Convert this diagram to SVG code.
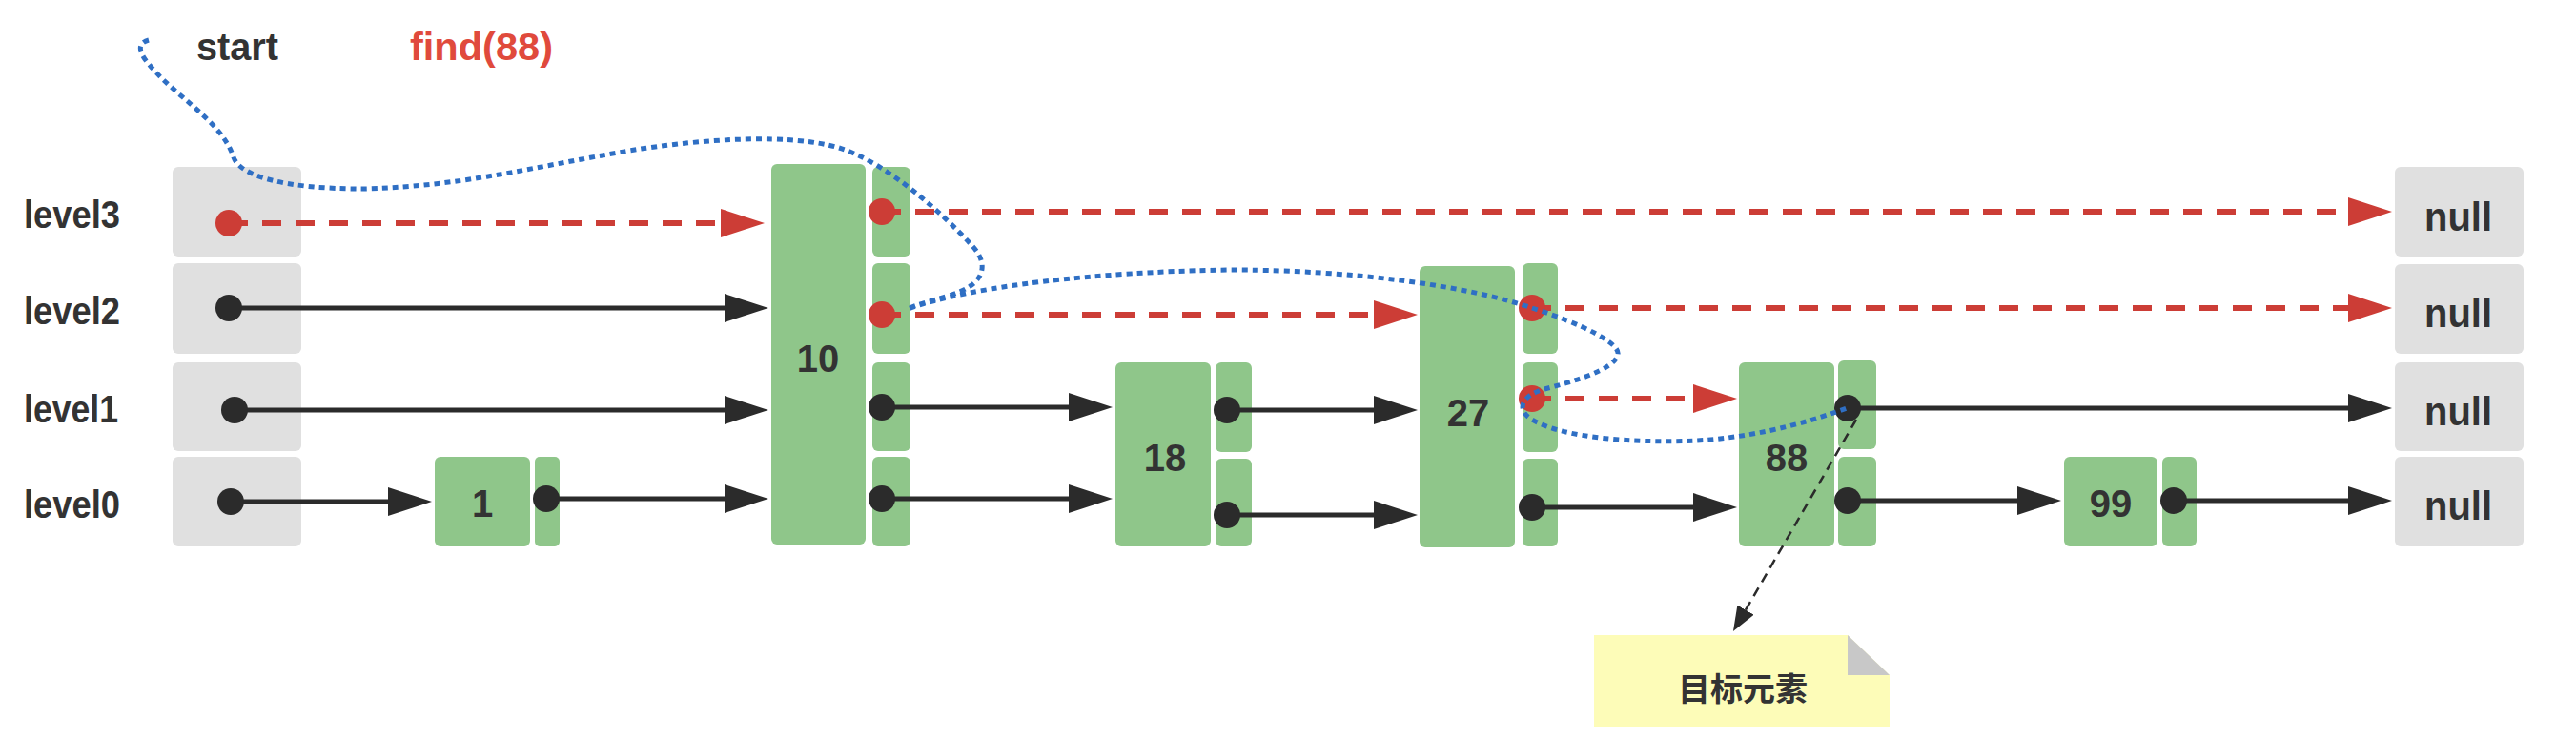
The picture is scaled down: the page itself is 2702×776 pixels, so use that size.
<svg xmlns="http://www.w3.org/2000/svg" width="2702" height="776" viewBox="0 0 2702 776">
<defs>
<style>
.gray{fill:#e0e0e0}
.grn{fill:#8fc68a}
.lbl{font-family:"Liberation Sans",Arial,sans-serif;font-weight:bold;fill:#333;font-size:40px}
.num{font-family:"Liberation Sans",Arial,sans-serif;font-weight:bold;fill:#333;font-size:40px;text-anchor:middle;dominant-baseline:central}
.nul{font-family:"Liberation Sans",Arial,sans-serif;font-weight:bold;fill:#333;font-size:43px}
.blk{stroke:#2b2b2b;stroke-width:5;fill:none;marker-end:url(#ab)}
.red{stroke:#cc3d36;stroke-width:6;fill:none;stroke-dasharray:20 15;marker-end:url(#ar)}
.dotB{fill:#2b2b2b}
.dotR{fill:#cc3d36}
</style>
<marker id="ab" markerUnits="userSpaceOnUse" markerWidth="46" markerHeight="30" viewBox="0 0 46 30" refX="22" refY="15" orient="auto"><path d="M0,0 L46,15 L0,30 z" fill="#2b2b2b"/></marker>
<marker id="ar" markerUnits="userSpaceOnUse" markerWidth="46" markerHeight="30" viewBox="0 0 46 30" refX="22" refY="15" orient="auto"><path d="M0,0 L46,15 L0,30 z" fill="#cc3d36"/></marker>
<marker id="at" markerUnits="userSpaceOnUse" markerWidth="26" markerHeight="20" viewBox="0 0 26 20" refX="12" refY="10" orient="auto"><path d="M0,0 L26,10 L0,20 z" fill="#2b2b2b"/></marker>
</defs>
<rect width="2702" height="776" fill="#ffffff"/>

<g id="titles">
<text x="206" y="63" class="lbl" textLength="86" lengthAdjust="spacingAndGlyphs">start</text>
<text x="430" y="63" class="lbl" style="fill:#e04a3c" textLength="150" lengthAdjust="spacingAndGlyphs">find(88)</text>
</g>

<g id="start">
<rect class="gray" x="181" y="175" width="135" height="94" rx="6"/>
<rect class="gray" x="181" y="276" width="135" height="95" rx="6"/>
<rect class="gray" x="181" y="380" width="135" height="93" rx="6"/>
<rect class="gray" x="181" y="479" width="135" height="94" rx="6"/>
<text class="lbl" x="25" y="239" textLength="101" lengthAdjust="spacingAndGlyphs">level3</text>
<text class="lbl" x="25" y="340" textLength="101" lengthAdjust="spacingAndGlyphs">level2</text>
<text class="lbl" x="25" y="443" textLength="99" lengthAdjust="spacingAndGlyphs">level1</text>
<text class="lbl" x="25" y="543" textLength="101" lengthAdjust="spacingAndGlyphs">level0</text>
</g>

<g id="node1">
<rect class="grn" x="456" y="479" width="100" height="94" rx="6"/>
<rect class="grn" x="561" y="479" width="26" height="94" rx="5"/>
<text class="num" x="506" y="528">1</text>
</g>

<g id="node10">
<rect class="grn" x="809" y="172" width="99" height="399" rx="6"/>
<rect class="grn" x="915" y="175" width="40" height="94" rx="6"/>
<rect class="grn" x="915" y="276" width="40" height="95" rx="6"/>
<rect class="grn" x="915" y="380" width="40" height="93" rx="6"/>
<rect class="grn" x="915" y="479" width="40" height="94" rx="6"/>
<text class="num" x="858" y="376">10</text>
</g>

<g id="node18">
<rect class="grn" x="1170" y="380" width="100" height="193" rx="6"/>
<rect class="grn" x="1275" y="380" width="38" height="94" rx="6"/>
<rect class="grn" x="1275" y="481" width="38" height="92" rx="6"/>
<text class="num" x="1222" y="480">18</text>
</g>

<g id="node27">
<rect class="grn" x="1489" y="279" width="100" height="295" rx="6"/>
<rect class="grn" x="1597" y="276" width="37" height="95" rx="6"/>
<rect class="grn" x="1597" y="380" width="37" height="94" rx="6"/>
<rect class="grn" x="1597" y="481" width="37" height="92" rx="6"/>
<text class="num" x="1540" y="433">27</text>
</g>

<g id="node88">
<rect class="grn" x="1824" y="380" width="100" height="193" rx="6"/>
<rect class="grn" x="1928" y="378" width="40" height="93" rx="6"/>
<rect class="grn" x="1928" y="479" width="40" height="94" rx="6"/>
<text class="num" x="1874" y="480">88</text>
</g>

<g id="node99">
<rect class="grn" x="2165" y="479" width="98" height="94" rx="6"/>
<rect class="grn" x="2268" y="479" width="36" height="94" rx="6"/>
<text class="num" x="2214" y="528">99</text>
</g>

<g id="nullcol">
<rect class="gray" x="2512" y="175" width="135" height="94" rx="6"/>
<rect class="gray" x="2512" y="277" width="135" height="94" rx="6"/>
<rect class="gray" x="2512" y="380" width="135" height="93" rx="6"/>
<rect class="gray" x="2512" y="479" width="135" height="94" rx="6"/>
<text class="nul" x="2543" y="242" textLength="71" lengthAdjust="spacingAndGlyphs">null</text>
<text class="nul" x="2543" y="343" textLength="71" lengthAdjust="spacingAndGlyphs">null</text>
<text class="nul" x="2543" y="446" textLength="71" lengthAdjust="spacingAndGlyphs">null</text>
<text class="nul" x="2543" y="545" textLength="71" lengthAdjust="spacingAndGlyphs">null</text>
</g>

<g id="note">
<polygon points="1672,666 1938,666 1982,708 1982,762 1672,762" fill="#fdfcb8"/>
<polygon points="1938,666 1938,708 1982,708" fill="#c8c8c8"/>
<text x="1828" y="720" style="font-family:'Noto Sans CJK SC','Liberation Sans',sans-serif;font-weight:bold;font-size:34px;fill:#333;text-anchor:middle;dominant-baseline:central">目标元素</text>
</g>

<g id="connectors">
<path class="red" d="M240,234 H778"/>
<path class="red" d="M925,222 H2485"/>
<path class="red" d="M925,330 H1463"/>
<path class="red" d="M1607,323 H2485"/>
<path class="red" d="M1607,418 H1798"/>
<path class="blk" d="M240,323 H782"/>
<path class="blk" d="M246,430 H782"/>
<path class="blk" d="M242,526 H429"/>
<path class="blk" d="M573,523 H782"/>
<path class="blk" d="M925,427 H1143"/>
<path class="blk" d="M925,523 H1143"/>
<path class="blk" d="M1287,430 H1463"/>
<path class="blk" d="M1287,540 H1463"/>
<path class="blk" d="M1607,532 H1798"/>
<path class="blk" d="M1938,428 H2485"/>
<path class="blk" d="M1938,525 H2138"/>
<path class="blk" d="M2280,525 H2485"/>
<path d="M1947,440 L1825,650" stroke="#2b2b2b" stroke-width="2.5" stroke-dasharray="10 7" fill="none" marker-end="url(#at)"/>
<circle class="dotR" cx="240" cy="234" r="14"/>
<circle class="dotB" cx="240" cy="323" r="14"/>
<circle class="dotB" cx="246" cy="430" r="14"/>
<circle class="dotB" cx="242" cy="526" r="14"/>
<circle class="dotB" cx="573" cy="523" r="14"/>
<circle class="dotR" cx="925" cy="222" r="14"/>
<circle class="dotR" cx="925" cy="330" r="14"/>
<circle class="dotB" cx="925" cy="427" r="14"/>
<circle class="dotB" cx="925" cy="523" r="14"/>
<circle class="dotB" cx="1287" cy="430" r="14"/>
<circle class="dotB" cx="1287" cy="540" r="14"/>
<circle class="dotR" cx="1607" cy="323" r="14"/>
<circle class="dotR" cx="1607" cy="418" r="14"/>
<circle class="dotB" cx="1607" cy="532" r="14"/>
<circle class="dotB" cx="1938" cy="428" r="14"/>
<circle class="dotB" cx="1938" cy="525" r="14"/>
<circle class="dotB" cx="2280" cy="525" r="14"/>
<path d="M156,42 Q141,46 152,62 C180,100 232,125 245,165 C252,185 300,198 380,198 C480,196 560,175 660,158 C740,145 830,140 880,155 C930,170 990,225 1020,258 C1040,280 1030,300 995,310 C975,316 960,320 952,324 C1020,300 1150,285 1290,283 C1420,283 1540,300 1607,323 C1660,340 1700,360 1697,372 C1693,388 1650,400 1620,408 C1595,415 1590,430 1607,440 C1640,460 1720,465 1780,462 C1850,458 1910,438 1937,428" stroke="#2f6fc4" stroke-width="5" stroke-dasharray="6 5" fill="none"/>
</g>
</svg>
